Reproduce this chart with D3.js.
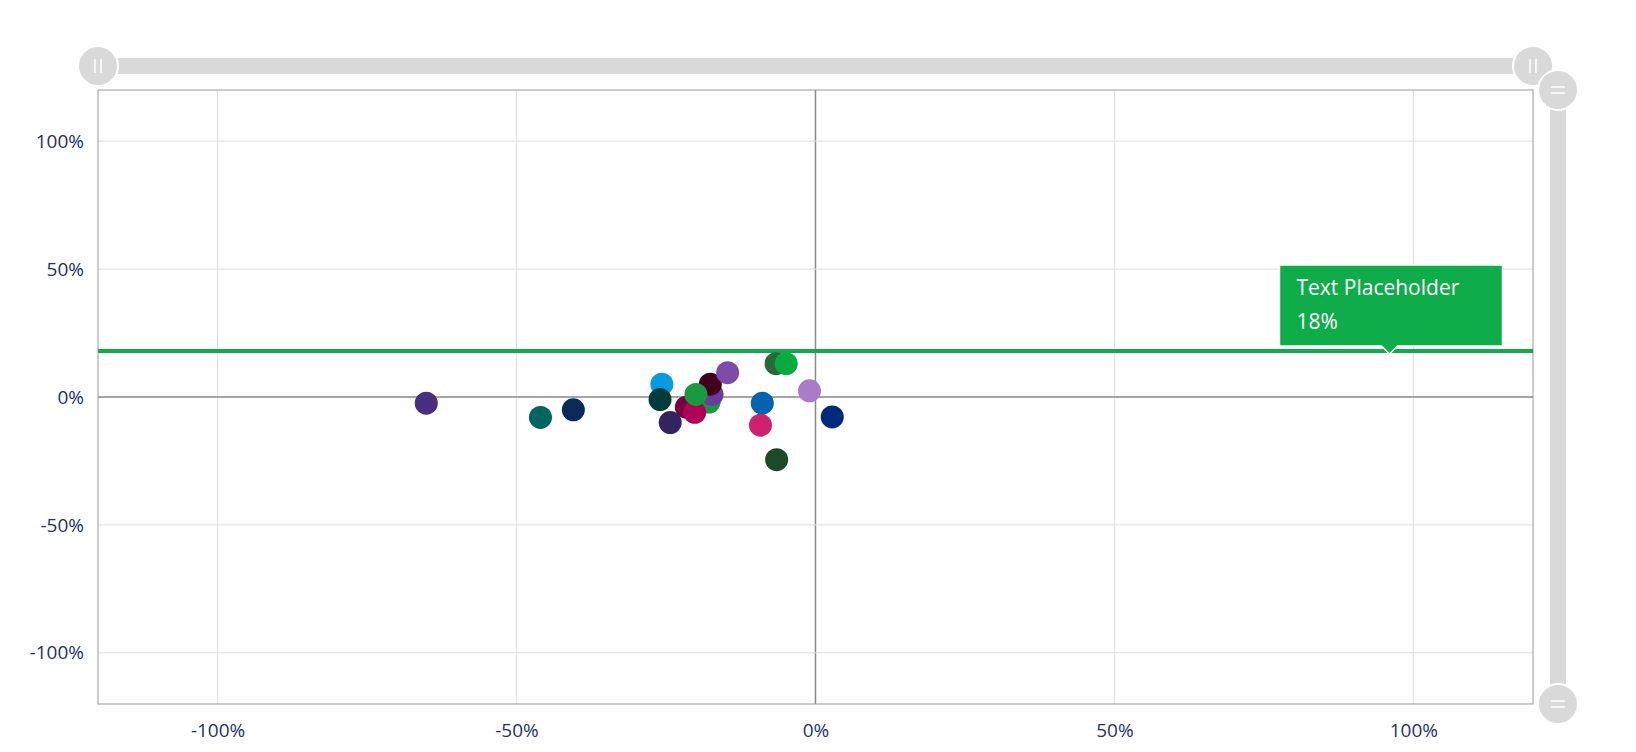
<!DOCTYPE html>
<html lang="en">
<head>
  <meta charset="UTF-8">
  <style>
    body { margin: 0; overflow: hidden; background: #fff; }
    svg { display: block; }
    .tick text { font-family: "Open Sans", sans-serif; font-size: 19px; fill: #1f2f6e; }
  </style>
  <script src="https://d3js.org/d3.v7.min.js"></script>
</head>
<body>
<svg id="chart"></svg>
<script>
  const xVals = [-65.1, -46, -40.5, -25.7, -26, -24.3, -21.6, -20.2, -20, -17.6, -17.8, -17.3, -14.7, -8.9, -9.2, -6.6, -4.9, -1, 2.8, -6.5];
  const yVals = [-2.4, -8, -5, 5, -1, -10, -4, -6, 1, 5, -2, 1, 9.5, -2.4, -11, 13, 13, 2.4, -7.8, -24.5];
  const colors = ["#4a2f80", "#006560", "#0a2a5a", "#0a9ae0", "#003d3a", "#33235e", "#7a0040", "#b0005a",
    "#1a9a40", "#40001c", "#1a9a40", "#6a3aa0", "#7e4aaa", "#0064b0", "#d02070", "#2a6a3a", "#0aaa40",
    "#a87cc8", "#002a7a", "#1a4a28"];
  // draw order: pink on top of the cluster
  const order = [0,1,2,3,4,5,6,10,11,7,9,8,12,13,14,15,16,17,18,19];
  const tickVals = [-100, -50, 0, 50, 100];
  const refLine = 18;
  const refLabel = "Text Placeholder";

  const W = 1636, H = 752;
  const m = { left: 98, right: 1533, top: 90, bottom: 704 };
  const svg = d3.select("#chart").attr("width", W).attr("height", H);

  const x = d3.scaleLinear().domain([-120, 120]).range([m.left, m.right]);
  const y = d3.scaleLinear().domain([-120, 120]).range([m.bottom, m.top]);

  // grid
  svg.append("g").selectAll("line").data(tickVals).join("line")
    .attr("x1", d => x(d)).attr("x2", d => x(d)).attr("y1", m.top).attr("y2", m.bottom)
    .attr("stroke", d => d === 0 ? "#888" : "#ddd").attr("stroke-width", d => d === 0 ? 1.5 : 1);
  svg.append("g").selectAll("line").data(tickVals).join("line")
    .attr("y1", d => y(d)).attr("y2", d => y(d)).attr("x1", m.left).attr("x2", m.right)
    .attr("stroke", d => d === 0 ? "#888" : "#ddd").attr("stroke-width", d => d === 0 ? 1.5 : 1);
  svg.append("rect").attr("x", m.left).attr("y", m.top)
    .attr("width", m.right - m.left).attr("height", m.bottom - m.top)
    .attr("fill", "none").attr("stroke", "#999");

  const fmt = d => d + "%";
  svg.append("g").attr("transform", `translate(0,${m.bottom})`)
    .call(d3.axisBottom(x).tickValues(tickVals).tickFormat(fmt).tickSize(0).tickPadding(20))
    .call(g => g.select(".domain").remove());
  svg.append("g").attr("transform", `translate(${m.left},0)`)
    .call(d3.axisLeft(y).tickValues(tickVals).tickFormat(fmt).tickSize(0).tickPadding(14))
    .call(g => g.select(".domain").remove());

  // reference line
  svg.append("line").attr("x1", m.left).attr("x2", m.right)
    .attr("y1", y(refLine)).attr("y2", y(refLine))
    .attr("stroke", "#0fac4a").attr("stroke-width", 4);

  // dots
  svg.append("g").selectAll("circle").data(order).join("circle")
    .attr("cx", i => x(xVals[i])).attr("cy", i => y(yVals[i])).attr("r", 11.5)
    .attr("fill", i => colors[i]);

  // tooltip
  const tx = x(96), ty = y(refLine) - 4;
  const tip = svg.append("g");
  tip.append("path")
    .attr("d", `M${tx - 110},${ty - 82} h223 v81 h-${223 - 118} l-8,8 l-8,-8 h-${118 - 16 + 0} z`)
    .attr("fill", "#0fac4a").attr("stroke", "#fff").attr("stroke-width", 1.5);
  tip.append("text").attr("x", tx - 93).attr("y", ty - 52)
    .attr("fill", "#fff").attr("font-family", "Open Sans, sans-serif").attr("font-size", 21).text(refLabel);
  tip.append("text").attr("x", tx - 93).attr("y", ty - 18)
    .attr("fill", "#fff").attr("font-family", "Open Sans, sans-serif").attr("font-size", 21).text(fmt(refLine));

  // range sliders
  const hy = 66, vx = 1558;
  svg.append("rect").attr("x", m.left).attr("y", hy - 8).attr("width", m.right - m.left).attr("height", 16).attr("fill", "#d9d9d9");
  svg.append("rect").attr("x", vx - 8).attr("y", m.top).attr("width", 16).attr("height", m.bottom - m.top).attr("fill", "#d9d9d9");
  const handles = [[m.left, hy, "h"], [m.right, hy, "h"], [vx, m.top, "v"], [vx, m.bottom, "v"]];
  handles.forEach(([cx, cy, t]) => {
    svg.append("circle").attr("cx", cx).attr("cy", cy).attr("r", 20)
      .attr("fill", "#d9d9d9").attr("stroke", "#fff").attr("stroke-width", 2);
    const g = svg.append("g").attr("stroke", "#fff").attr("stroke-width", 1.5);
    if (t === "h") {
      g.append("line").attr("x1", cx - 3).attr("x2", cx - 3).attr("y1", cy - 7).attr("y2", cy + 7);
      g.append("line").attr("x1", cx + 3).attr("x2", cx + 3).attr("y1", cy - 7).attr("y2", cy + 7);
    } else {
      g.append("line").attr("y1", cy - 3).attr("y2", cy - 3).attr("x1", cx - 7).attr("x2", cx + 7);
      g.append("line").attr("y1", cy + 3).attr("y2", cy + 3).attr("x1", cx - 7).attr("x2", cx + 7);
    }
  });
</script>
</body>
</html>
